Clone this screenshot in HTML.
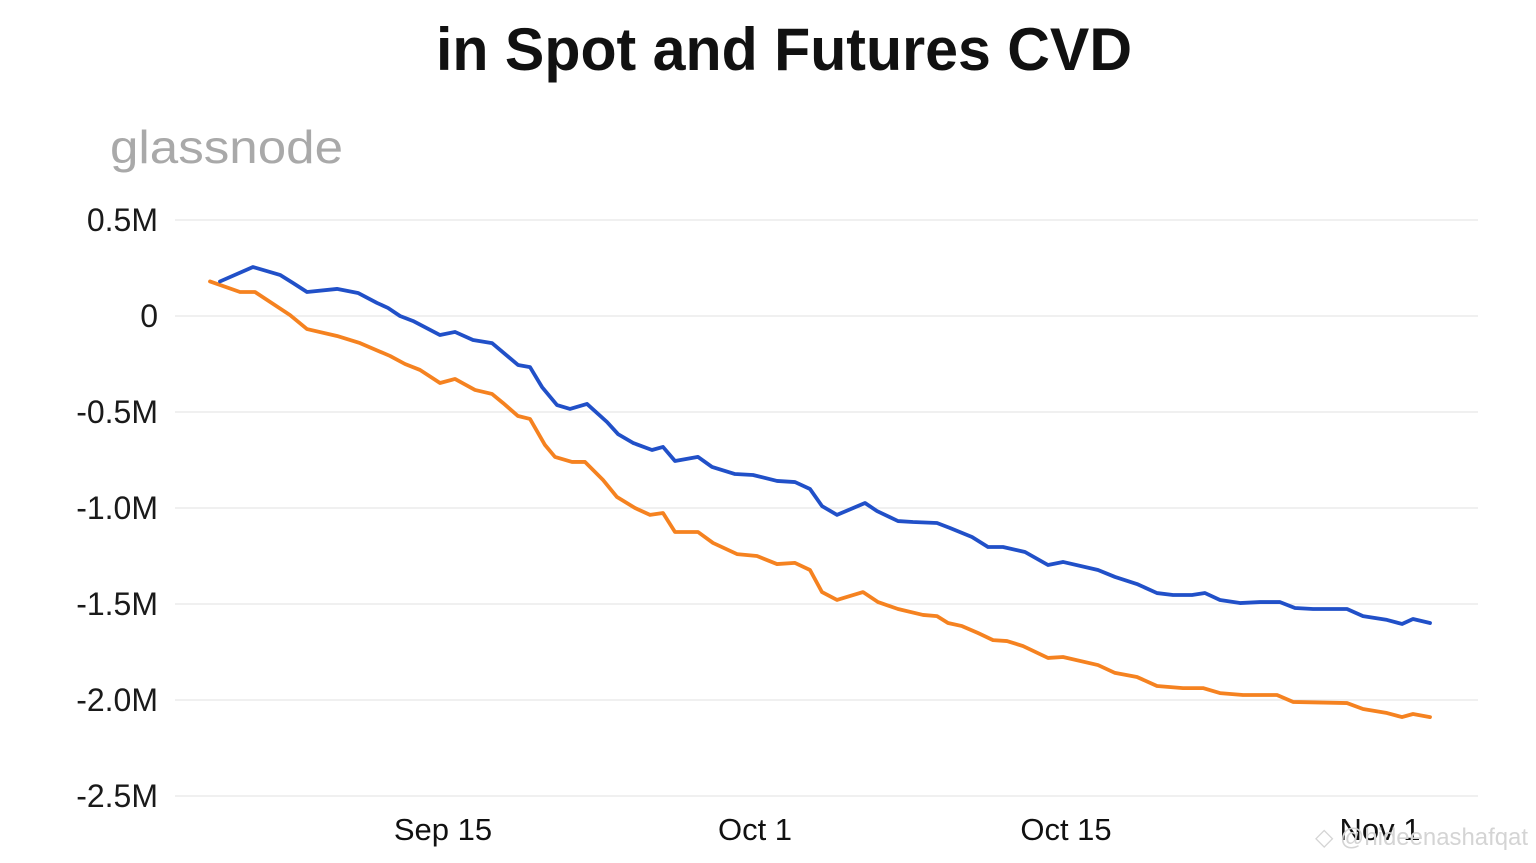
<!DOCTYPE html>
<html><head><meta charset="utf-8"><style>
html,body{margin:0;padding:0;background:#fff;width:1536px;height:863px;overflow:hidden}
svg{display:block}
text{font-family:"Liberation Sans","DejaVu Sans",sans-serif}
</style></head><body>
<svg id="chart" width="1536" height="863" viewBox="0 0 1536 863">
<text x="784" y="70" text-anchor="middle" font-size="60" font-weight="bold" fill="#111" textLength="696" lengthAdjust="spacingAndGlyphs">in Spot and Futures CVD</text>
<text x="110" y="163" font-size="46" fill="#a9a9a9" textLength="233" lengthAdjust="spacingAndGlyphs">glassnode</text>
<g id="grid"></g>
<g id="yticks"></g>
<g id="xticks"></g>
<g id="series"></g>
<text x="1315" y="845" font-size="24" fill="#d4d4d4" textLength="213" lengthAdjust="spacingAndGlyphs">◇ @hideenashafqat</text>
</svg>
<script>
const yTicks=[0.5,0,-0.5,-1.0,-1.5,-2.0,-2.5];
const yTickLabels=["0.5M","0","-0.5M","-1.0M","-1.5M","-2.0M","-2.5M"];
const xTickDays=[11.65,27.25,42.8,58.5];
const xTickLabels=["Sep 15","Oct 1","Oct 15","Nov 1"];
const futuresDays=[0,1.5,2.25,4,4.85,6.35,7.5,9,9.75,10.5,11.5,12.25,13.25,14.1,14.65,15.4,16,16.75,17.25,18.1,18.75,19.65,20.35,21.25,22,22.65,23.25,24.4,25.15,26.35,27.35,28.35,29.25,30,30.6,31.35,32.65,33.4,34.4,35.65,36.35,36.9,37.6,38.4,39.15,39.85,40.65,41.9,42.65,44.4,45.25,46.35,47.35,48.65,49.65,50.5,51.65,53.35,54.15,56.85,57.65,58.85,59.6,60.15,61];
const futuresCVD=[0.18,0.125,0.125,0.005,-0.068,-0.104,-0.141,-0.208,-0.25,-0.281,-0.349,-0.328,-0.385,-0.406,-0.453,-0.521,-0.536,-0.672,-0.734,-0.76,-0.76,-0.854,-0.943,-1.0,-1.036,-1.026,-1.125,-1.125,-1.182,-1.24,-1.25,-1.292,-1.286,-1.323,-1.438,-1.479,-1.438,-1.49,-1.526,-1.557,-1.563,-1.599,-1.615,-1.651,-1.688,-1.693,-1.719,-1.781,-1.776,-1.818,-1.859,-1.88,-1.927,-1.938,-1.938,-1.964,-1.974,-1.974,-2.01,-2.016,-2.047,-2.068,-2.089,-2.073,-2.089];
const spotDays=[0.5,2.15,3.5,4.15,4.85,6.35,7.4,8.35,8.9,9.5,10.15,11.5,12.25,13.15,14.1,15.4,16,16.6,17.35,18,18.85,19.85,20.4,21.15,22.1,22.65,23.25,24.4,25.1,26.25,27.15,28.35,29.25,30,30.6,31.35,32.75,33.35,34.4,35.15,36.35,37,38.1,38.9,39.65,40.75,41.9,42.65,44.4,45.25,46.35,47.35,48.15,49.1,49.75,50.5,51.5,52.5,53.5,54.25,55.15,56.85,57.65,58.85,59.6,60.15,61];
const spotCVD=[0.18,0.255,0.214,0.172,0.125,0.141,0.12,0.068,0.042,0,-0.026,-0.099,-0.083,-0.125,-0.141,-0.255,-0.266,-0.37,-0.464,-0.484,-0.458,-0.552,-0.615,-0.661,-0.698,-0.682,-0.755,-0.734,-0.786,-0.823,-0.828,-0.859,-0.865,-0.901,-0.99,-1.036,-0.974,-1.016,-1.068,-1.073,-1.078,-1.104,-1.151,-1.203,-1.203,-1.229,-1.297,-1.281,-1.323,-1.359,-1.396,-1.443,-1.453,-1.453,-1.443,-1.479,-1.495,-1.49,-1.49,-1.521,-1.526,-1.526,-1.563,-1.583,-1.604,-1.578,-1.599];

const NS="http://www.w3.org/2000/svg";
const xScale=d=>210+d*20;
const yScale=v=>316-v*192;
function mk(tag,attrs,parent){const e=document.createElementNS(NS,tag);for(const k in attrs)e.setAttribute(k,attrs[k]);parent.appendChild(e);return e;}
const grid=document.getElementById('grid'),yt=document.getElementById('yticks'),xt=document.getElementById('xticks'),ser=document.getElementById('series');
yTicks.forEach((v,i)=>{
  const l=mk('line',{x1:175,x2:1478,y1:yScale(v),y2:yScale(v),stroke:'#e6e6e6','stroke-width':1.2},grid);
  
  
  const t=mk('text',{x:158,y:yScale(v)+11,'text-anchor':'end','font-size':32,fill:'#1a1a1a'},yt);
  t.textContent=yTickLabels[i];
  
  
});
xTickDays.forEach((d,i)=>{
  const t=mk('text',{x:xScale(d),y:840,'text-anchor':'middle','font-size':31,fill:'#111'},xt);
  t.textContent=xTickLabels[i];
  
  
});
function line(days,vals,color,name){
  const p=mk('polyline',{points:days.map((d,i)=>xScale(d)+','+yScale(vals[i])).join(' '),fill:'none',stroke:color,'stroke-width':3.8,'stroke-linejoin':'round','stroke-linecap':'round'},ser);
  
  
}
line(futuresDays,futuresCVD,'#f58220','futures-cvd-line');
line(spotDays,spotCVD,'#2150c8','spot-cvd-line');
</script>
</body></html>
